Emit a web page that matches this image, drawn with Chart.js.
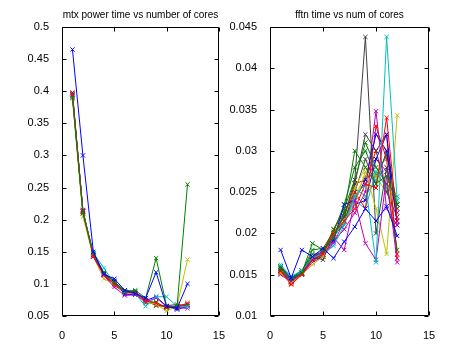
<!DOCTYPE html>
<html>
<head>
<meta charset="utf-8">
<script src="https://cdn.jsdelivr.net/npm/chart.js@4/dist/chart.umd.min.js"></script>
<style>
  html, body { margin: 0; padding: 0; background: #fff; }
  #wrap { position: relative; width: 474px; height: 355px; }
  canvas { position: absolute; top: 0; }
</style>
</head>
<body>
<div id="wrap">
  <canvas id="c1" width="230" height="355" style="left:0"></canvas>
  <canvas id="c2" width="244" height="355" style="left:230px"></canvas>
</div>
<script>
// ---------- data ----------
const cores = [1, 2, 3, 4, 5, 6, 7, 8, 9, 10, 11, 12];
const xTicks = [0, 5, 10, 15];
const leftYTicks = [0.05, 0.1, 0.15, 0.2, 0.25, 0.3, 0.35, 0.4, 0.45, 0.5];
const rightYTicks = [0.01, 0.015, 0.02, 0.025, 0.03, 0.035, 0.04, 0.045];
const leftTitle = "mtx power time vs number of cores";
const rightTitle = "fftn time vs num of cores";

const mtx1  = [0.465, 0.300, 0.150, 0.115, 0.108, 0.090, 0.085, 0.078, 0.118, 0.065, 0.062, 0.100];
const mtx2  = [0.390, 0.210, 0.148, 0.118, 0.102, 0.088, 0.090, 0.078, 0.140, 0.065, 0.065, 0.255];
const mtx3  = [0.395, 0.212, 0.142, 0.115, 0.100, 0.088, 0.085, 0.075, 0.070, 0.063, 0.064, 0.070];
const mtx4  = [0.392, 0.212, 0.148, 0.125, 0.100, 0.087, 0.085, 0.065, 0.080, 0.080, 0.065, 0.065];
const mtx5  = [0.393, 0.215, 0.143, 0.113, 0.095, 0.082, 0.083, 0.072, 0.078, 0.065, 0.063, 0.062];
const mtx6  = [0.388, 0.205, 0.142, 0.108, 0.100, 0.088, 0.085, 0.072, 0.068, 0.058, 0.065, 0.138];
const mtx7  = [0.398, 0.213, 0.145, 0.117, 0.104, 0.087, 0.088, 0.075, 0.066, 0.066, 0.068, 0.066];
const mtx8  = [0.393, 0.213, 0.145, 0.115, 0.105, 0.084, 0.083, 0.074, 0.080, 0.065, 0.060, 0.065];
const mtx9  = [0.395, 0.210, 0.146, 0.116, 0.103, 0.090, 0.088, 0.070, 0.072, 0.062, 0.066, 0.068];
const mtx10 = [0.397, 0.214, 0.143, 0.114, 0.098, 0.086, 0.086, 0.073, 0.067, 0.064, 0.062, 0.068];
const mtxSeries = [mtx1, mtx2, mtx3, mtx4, mtx5, mtx6, mtx7, mtx8, mtx9, mtx10];

const fft1  = [0.0180, 0.0146, 0.0180, 0.0172, 0.0182, 0.0170, 0.0190, 0.0208, 0.0230, 0.0215, 0.0233, 0.0197];
const fft2  = [0.0158, 0.0145, 0.0152, 0.0188, 0.0180, 0.0195, 0.0225, 0.0300, 0.0280, 0.0260, 0.0270, 0.0235];
const fft3  = [0.0155, 0.0138, 0.0150, 0.0168, 0.0175, 0.0200, 0.0215, 0.0230, 0.0260, 0.0255, 0.0340, 0.0215];
const fft4  = [0.0162, 0.0148, 0.0155, 0.0170, 0.0175, 0.0185, 0.0210, 0.0245, 0.0260, 0.0165, 0.0438, 0.0240];
const fft5  = [0.0155, 0.0142, 0.0152, 0.0170, 0.0178, 0.0195, 0.0180, 0.0240, 0.0188, 0.0168, 0.0270, 0.0165];
const fft6  = [0.0152, 0.0140, 0.0150, 0.0162, 0.0172, 0.0200, 0.0215, 0.0235, 0.0275, 0.0230, 0.0175, 0.0343];
const fft7  = [0.0158, 0.0145, 0.0152, 0.0172, 0.0168, 0.0200, 0.0220, 0.0265, 0.0438, 0.0200, 0.0280, 0.0230];
const fft8  = [0.0155, 0.0143, 0.0152, 0.0168, 0.0175, 0.0192, 0.0235, 0.0240, 0.0265, 0.0320, 0.0300, 0.0215];
const fft9  = [0.0160, 0.0145, 0.0155, 0.0175, 0.0175, 0.0205, 0.0230, 0.0265, 0.0310, 0.0280, 0.0260, 0.0180];
const fft10 = [0.0152, 0.0140, 0.0150, 0.0170, 0.0178, 0.0205, 0.0225, 0.0250, 0.0230, 0.0330, 0.0290, 0.0175];
const fft11 = [0.0158, 0.0146, 0.0153, 0.0172, 0.0180, 0.0195, 0.0215, 0.0240, 0.0230, 0.0275, 0.0255, 0.0245];
const fft12 = [0.0150, 0.0141, 0.0150, 0.0165, 0.0172, 0.0190, 0.0205, 0.0225, 0.0250, 0.0348, 0.0230, 0.0210];
const fft13 = [0.0155, 0.0143, 0.0152, 0.0170, 0.0175, 0.0200, 0.0220, 0.0255, 0.0280, 0.0270, 0.0260, 0.0240];
const fft14 = [0.0153, 0.0142, 0.0152, 0.0168, 0.0172, 0.0198, 0.0210, 0.0260, 0.0320, 0.0300, 0.0250, 0.0220];
const fft15 = [0.0160, 0.0146, 0.0155, 0.0172, 0.0178, 0.0200, 0.0215, 0.0235, 0.0240, 0.0290, 0.0320, 0.0210];
const fft16 = [0.0156, 0.0144, 0.0153, 0.0180, 0.0182, 0.0202, 0.0235, 0.0280, 0.0300, 0.0270, 0.0295, 0.0235];
const fft17 = [0.0154, 0.0139, 0.0151, 0.0168, 0.0175, 0.0200, 0.0220, 0.0260, 0.0265, 0.0300, 0.0320, 0.0170];
const fft18 = [0.0158, 0.0145, 0.0152, 0.0170, 0.0178, 0.0195, 0.0225, 0.0255, 0.0245, 0.0265, 0.0280, 0.0235];
const fft19 = [0.0155, 0.0142, 0.0152, 0.0168, 0.0172, 0.0188, 0.0215, 0.0245, 0.0260, 0.0290, 0.0275, 0.0225];
const fft20 = [0.0156, 0.0142, 0.0150, 0.0165, 0.0172, 0.0195, 0.0220, 0.0245, 0.0270, 0.0268, 0.0250, 0.0230];
const fft21 = [0.0152, 0.0141, 0.0151, 0.0170, 0.0175, 0.0195, 0.0215, 0.0250, 0.0290, 0.0260, 0.0300, 0.0235];
const fftSeries = [fft1, fft2, fft3, fft4, fft5, fft6, fft7, fft8, fft9, fft10, fft11,
                   fft12, fft13, fft14, fft15, fft16, fft17, fft18, fft19, fft20, fft21];

const colorOrder = ['#0000ff', '#008000', '#ff0000', '#00bfbf', '#bf00bf', '#bfbf00', '#404040'];

// ---------- helpers ----------
function fmt(v) { return String(parseFloat(v.toFixed(4))); }

const framePlugin = {
  id: 'frame',
  afterDatasetsDraw(chart) {
    const { ctx, chartArea: a, scales } = chart;
    ctx.save();
    ctx.strokeStyle = '#000';
    ctx.lineWidth = 1;
    const L = Math.round(a.left) + 0.5, R = Math.round(a.right) - 0.5;
    const T = Math.round(a.top) + 0.5, B = Math.round(a.bottom) - 0.5;
    ctx.beginPath();
    ctx.rect(L, T, R - L, B - T);
    const tl = 4;
    scales.x.ticks.forEach(t => {
      const px = Math.round(scales.x.getPixelForValue(t.value)) + 0.5;
      ctx.moveTo(px, B); ctx.lineTo(px, B - tl);
      ctx.moveTo(px, T); ctx.lineTo(px, T + tl);
    });
    scales.y.ticks.forEach(t => {
      const py = Math.round(scales.y.getPixelForValue(t.value)) + 0.5;
      ctx.moveTo(L, py); ctx.lineTo(L + tl, py);
      ctx.moveTo(R, py); ctx.lineTo(R - tl, py);
    });
    ctx.stroke();
    ctx.restore();
  }
};

function makeChart(id, series, title, yTicks, yMin, yMax, yWidth, rightPad) {
  const datasets = series.map((s, i) => ({
    data: s.map((v, k) => ({ x: cores[k], y: v })),
    borderColor: colorOrder[i % colorOrder.length],
    backgroundColor: colorOrder[i % colorOrder.length],
    borderWidth: 1,
    pointStyle: 'crossRot',
    pointRadius: 3,
    pointBorderWidth: 1,
    tension: 0,
    fill: false
  }));
  return new Chart(document.getElementById(id), {
    type: 'line',
    data: { datasets },
    options: {
      responsive: false,
      animation: false,
      layout: { padding: { left: 0, right: rightPad, top: 0, bottom: 0 } },
      plugins: {
        legend: { display: false },
        tooltip: { enabled: false },
        title: {
          display: true, text: title, fullSize: false, color: '#000',
          font: { family: 'Liberation Sans, Arial, sans-serif', size: 10, weight: 'normal' },
          padding: { top: 9, bottom: 6 }
        }
      },
      scales: {
        x: {
          type: 'linear', min: 0, max: 15,
          afterBuildTicks: s => { s.ticks = xTicks.map(v => ({ value: v })); },
          afterFit: s => { s.height = 39; },
          grid: { display: false }, border: { display: false },
          ticks: { color: '#000', padding: 5, maxRotation: 0,
                   font: { family: 'Liberation Sans, Arial, sans-serif', size: 11 },
                   callback: v => fmt(v) }
        },
        y: {
          type: 'linear', min: yMin, max: yMax,
          afterBuildTicks: s => { s.ticks = yTicks.map(v => ({ value: v })); },
          afterFit: s => { s.width = yWidth; },
          grid: { display: false }, border: { display: false },
          ticks: { color: '#000', padding: 5,
                   font: { family: 'Liberation Sans, Arial, sans-serif', size: 11 },
                   callback: v => fmt(v) }
        }
      }
    },
    plugins: [framePlugin]
  });
}

makeChart('c1', mtxSeries, leftTitle, leftYTicks, 0.05, 0.5, 62, 10);
makeChart('c2', fftSeries, rightTitle, rightYTicks, 0.01, 0.045, 40, 45);
</script>
</body>
</html>
